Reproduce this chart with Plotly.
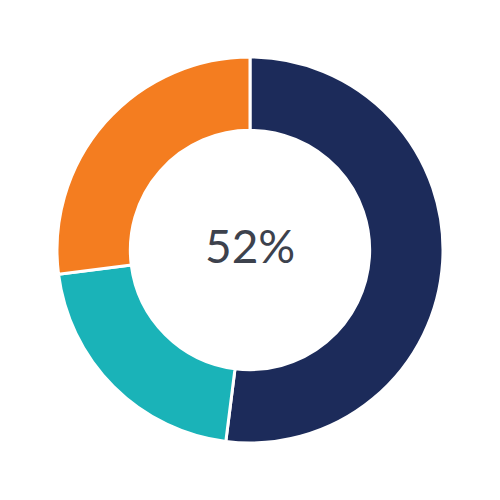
import plotly.graph_objects as go

labels = ["Navy", "Teal", "Orange"]
values = [52, 21, 27]
colors = ["#1c2b5a", "#1ab3b8", "#f47d20"]
center_text = "52%"

fig = go.Figure()
fig.add_trace(
    go.Pie(
        labels=labels,
        values=values,
        hole=0.62,
        sort=False,
        direction="clockwise",
        rotation=0,
        marker=dict(colors=colors, line=dict(color="white", width=3)),
        textinfo="none",
        hoverinfo="label+percent",
        showlegend=False,
    )
)

fig.add_annotation(
    text=center_text,
    x=0.5, y=0.5, xref="paper", yref="paper",
    yshift=5,
    showarrow=False,
    font=dict(family="Lato, Open Sans, sans-serif", size=46, color="#3d424d"),
)

fig.update_layout(
    width=500, height=500,
    margin=dict(l=49, r=65, t=49, b=65),
    paper_bgcolor="white",
    plot_bgcolor="white",
)

fig.write_html("out.html")
